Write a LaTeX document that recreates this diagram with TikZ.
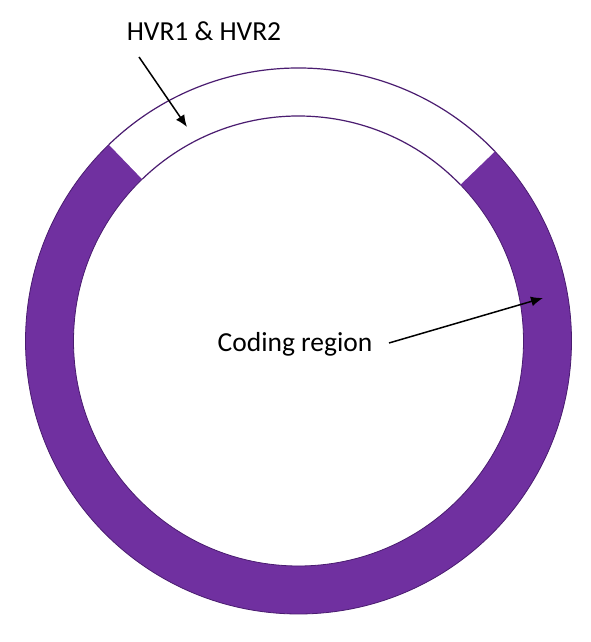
\documentclass[tikz,border=0pt]{standalone}
\usepackage{fontspec}
\setmainfont{Carlito}
\usepackage{xcolor}
\usepackage{tikz}
\usetikzlibrary{arrows.meta, positioning, calc}
\definecolor{ringpurple}{HTML}{7030A0}
\definecolor{edgepurple}{HTML}{4A1C70}

\begin{document}
\begin{tikzpicture}[x=1pt, y=1pt, >={Latex[length=12pt, width=10pt]}]
        % Define styles
        \tikzstyle{label} = [font=\fontsize{27.5}{30}\selectfont, text=black, anchor=base, inner sep=0pt]
        \tikzstyle{ring} = [fill=ringpurple, draw=edgepurple, line width=0.8pt, even odd rule]
        \tikzstyle{rim} = [draw=edgepurple, line width=1.2pt]
        \tikzstyle{arrow} = [line width=1.5pt, ->]

        \useasboundingbox (0,0) rectangle (591,642);
        \fill[white] (0,0) rectangle (591,642);

        % Ring
        \coordinate (c) at (298.5,301);
        \path[ring] (c) circle (273) (c) circle (225);

        % HVR section (white)
        \fill[white] ($(c)+(44:274)$) arc (44:134:274) -- ($(c)+(134:224)$) arc (134:44:224) -- cycle;
        \draw[rim] ($(c)+(44:273)$) arc (44:134:273);
        \draw[rim] ($(c)+(44:225)$) arc (44:134:225);

        % Labels
        \node (hvr) [label] at (204,601) {HVR1 \& HVR2};
        \node (coding) [label] at (295,290) {Coding region};

        % Arrows
        \coordinate (hvrtail) at (139,585);
        \coordinate (hvrtip) at (187,515);
        \coordinate (codingtail) at (389,299);
        \coordinate (codingtip) at (543,344);
        \draw [arrow] (hvrtail) -- (hvrtip);
        \draw [arrow] (codingtail) -- (codingtip);
    \end{tikzpicture}
\end{document}
